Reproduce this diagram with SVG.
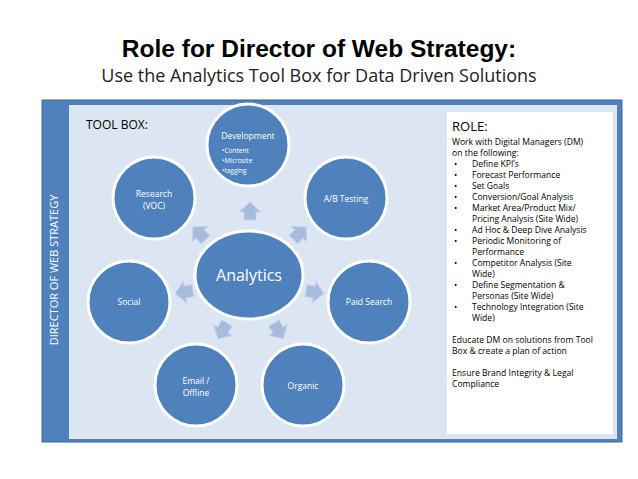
<svg xmlns="http://www.w3.org/2000/svg" width="638" height="479" viewBox="0 0 638 479">
<style>
text{font-family:"Open Sans","Liberation Sans",sans-serif}
.c{fill:#4f81bd;stroke:#fff;stroke-width:3}
.w{fill:#fff;font-size:8.5px;text-anchor:middle}
.ar{fill:#a7bcdc;stroke:#c5d3ea;stroke-width:1}
.r{font-size:8.6px;fill:#000}
</style>
<defs><path id="a" d="M-6 8 V0 H-11 L0 -10 L11 0 H6 V8 Z"/></defs>
<rect width="638" height="479" fill="#fff"/>
<text x="319" y="57" font-size="24.5" font-weight="bold" text-anchor="middle" style="font-family:'Liberation Sans',sans-serif">Role for Director of Web Strategy:</text>
<text x="319" y="82" font-size="18" text-anchor="middle" fill="#222">Use the Analytics Tool Box for Data Driven Solutions</text>
<g id="frame">
<rect x="42" y="100" width="580" height="342" fill="#4f81bd" stroke="#3a669b"/>
<rect x="69" y="105" width="548" height="334" fill="#dce6f2"/>
<text transform="translate(58,270) rotate(-90)" font-size="11" fill="#fff" text-anchor="middle">DIRECTOR OF WEB STRATEGY</text>
<text x="86" y="129" font-size="12">TOOL BOX:</text>
</g>
<g id="connectors">
<use href="#a" class="ar" transform="translate(250,212)"/>
<use href="#a" class="ar" transform="translate(200,234) rotate(-45)"/>
<use href="#a" class="ar" transform="translate(299,234) rotate(45)"/>
<use href="#a" class="ar" transform="translate(185,292) rotate(-100)"/>
<use href="#a" class="ar" transform="translate(314,292) rotate(100)"/>
<use href="#a" class="ar" transform="translate(223,330) rotate(-150)"/>
<use href="#a" class="ar" transform="translate(278,330) rotate(150)"/>
</g>
<g id="analytics"><ellipse class="c" cx="249" cy="275" rx="54" ry="44"/><text x="249" y="281" font-size="16" fill="#fff" text-anchor="middle">Analytics</text></g>
<g id="development"><circle class="c" cx="248" cy="145" r="41"/><text class="w" x="248" y="139">Development</text>
<text x="222" y="153" font-size="6.5" fill="#fff">•Content</text><text x="222" y="163" font-size="6.5" fill="#fff">•Microsite</text><text x="222" y="173" font-size="6.5" fill="#fff">•tagging</text></g>
<g id="research"><circle class="c" cx="154" cy="198" r="41"/><text class="w" x="154" y="197">Research</text><text class="w" x="154" y="209">(VOC)</text></g>
<g id="ab"><circle class="c" cx="346" cy="198" r="41"/><text class="w" x="346" y="202">A/B Testing</text></g>
<g id="social"><circle class="c" cx="129" cy="302" r="41"/><text class="w" x="129" y="305">Social</text></g>
<g id="paid"><circle class="c" cx="369" cy="302" r="41"/><text class="w" x="369" y="305">Paid Search</text></g>
<g id="email"><circle class="c" cx="196" cy="385" r="41"/><text class="w" x="196" y="384">Email /</text><text class="w" x="196" y="396">Offline</text></g>
<g id="organic"><circle class="c" cx="303" cy="385" r="41"/><text class="w" x="303" y="389">Organic</text></g>
<g id="role">
<rect x="447" y="112" width="166" height="322" fill="#fff"/>
<text x="452" y="131" font-size="13">ROLE:</text>
<text x="452" y="145" class="r">Work with Digital Managers (DM)</text>
<text x="452" y="156" class="r">on the following:</text>
<text x="454" y="167" class="r">•</text><text x="472" y="167" class="r">Define KPI’s</text>
<text x="454" y="178" class="r">•</text><text x="472" y="178" class="r">Forecast Performance</text>
<text x="454" y="189" class="r">•</text><text x="472" y="189" class="r">Set Goals</text>
<text x="454" y="200" class="r">•</text><text x="472" y="200" class="r">Conversion/Goal Analysis</text>
<text x="454" y="211" class="r">•</text><text x="472" y="211" class="r">Market Area/Product Mix/</text>
<text x="472" y="222" class="r">Pricing Analysis (Site Wide)</text>
<text x="454" y="233" class="r">•</text><text x="472" y="233" class="r">Ad Hoc &amp; Deep Dive Analysis</text>
<text x="454" y="244" class="r">•</text><text x="472" y="244" class="r">Periodic Monitoring of</text>
<text x="472" y="255" class="r">Performance</text>
<text x="454" y="266" class="r">•</text><text x="472" y="266" class="r">Competitor Analysis (Site</text>
<text x="472" y="277" class="r">Wide)</text>
<text x="454" y="288" class="r">•</text><text x="472" y="288" class="r">Define Segmentation &amp;</text>
<text x="472" y="299" class="r">Personas (Site Wide)</text>
<text x="454" y="310" class="r">•</text><text x="472" y="310" class="r">Technology Integration (Site</text>
<text x="472" y="321" class="r">Wide)</text>
<text x="452" y="343" class="r">Educate DM on solutions from Tool</text>
<text x="452" y="354" class="r">Box &amp; create a plan of action</text>
<text x="452" y="376" class="r">Ensure Brand Integrity &amp; Legal</text>
<text x="452" y="387" class="r">Compliance</text>
</g>
</svg>
